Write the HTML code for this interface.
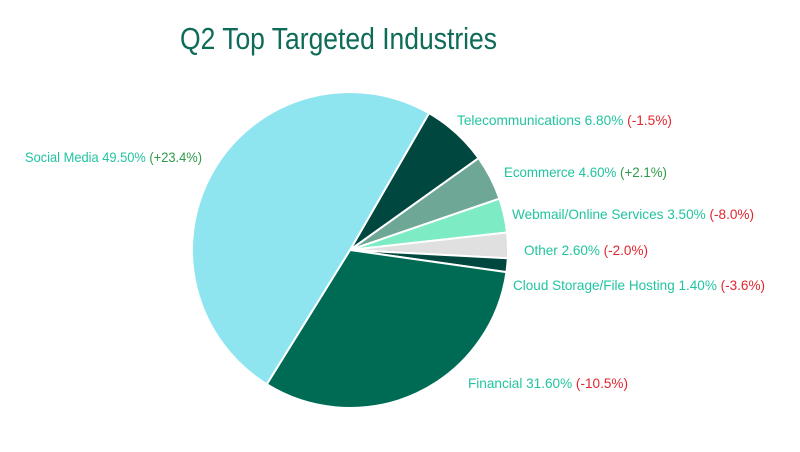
<!DOCTYPE html>
<html><head><meta charset="utf-8"><style>
html,body{margin:0;padding:0;background:#fff;}
svg{display:block;font-family:"Liberation Sans",sans-serif;}
</style></head><body>
<svg id="chart" width="800" height="452" viewBox="0 0 800 452">
<text x="180" y="49" font-size="31" fill="#0E6B58" textLength="317" lengthAdjust="spacingAndGlyphs">Q2 Top Targeted Industries</text>
<g id="slices"></g>
<g id="labels"></g>
</svg>
<script>
const categories = ["Telecommunications","Ecommerce","Webmail/Online Services","Other","Cloud Storage/File Hosting","Financial","Social Media"];
const values = [6.8, 4.6, 3.5, 2.6, 1.4, 31.6, 49.5];
const changes = ["-1.5%","+2.1%","-8.0%","-2.0%","-3.6%","-10.5%","+23.4%"];
const colors = ["#00473F","#6FA797","#7DEBC3","#E0E0E0","#00473F","#006B54","#8EE5F0"];
const labelPos = [[457,125,215],[504,177,163],[512,219,242],[524,255,124],[513,290,252],[468,388,160],[25,162,177]];
const cx=350, cy=250, r=158, startDeg=30;
const NS="http://www.w3.org/2000/svg";
const total = values.reduce((a,b)=>a+b,0);
function pt(deg){const a=(deg-90)*Math.PI/180;return [cx+r*Math.cos(a), cy+r*Math.sin(a)];}
let ang=startDeg;
const sg=document.getElementById('slices'), lg=document.getElementById('labels');
values.forEach((v,i)=>{
  const sweep=v/total*360;
  const [x1,y1]=pt(ang),[x2,y2]=pt(ang+sweep);
  const p=document.createElementNS(NS,'path');
  p.setAttribute('d',`M${cx},${cy} L${x1},${y1} A${r},${r} 0 ${sweep>180?1:0} 1 ${x2},${y2} Z`);
  p.setAttribute('fill',colors[i]);
  p.setAttribute('stroke','#fff');
  p.setAttribute('stroke-width','2');
  
  
  sg.appendChild(p);
  ang+=sweep;
  const t=document.createElementNS(NS,'text');
  const lp=labelPos[i];
  t.setAttribute('x',lp[0]);t.setAttribute('y',lp[1]);
  t.setAttribute('font-size','14');
  t.setAttribute('textLength',lp[2]);
  t.setAttribute('lengthAdjust','spacingAndGlyphs');
  
  
  const s1=document.createElementNS(NS,'tspan');
  s1.setAttribute('fill','#22C4A0');
  s1.textContent=categories[i]+' '+v.toFixed(2)+'% ';
  const s2=document.createElementNS(NS,'tspan');
  s2.setAttribute('fill',changes[i][0]==='+'?'#2E9B48':'#E0262E');
  s2.textContent='('+changes[i]+')';
  t.appendChild(s1);t.appendChild(s2);
  lg.appendChild(t);
});
</script>
</body></html>
